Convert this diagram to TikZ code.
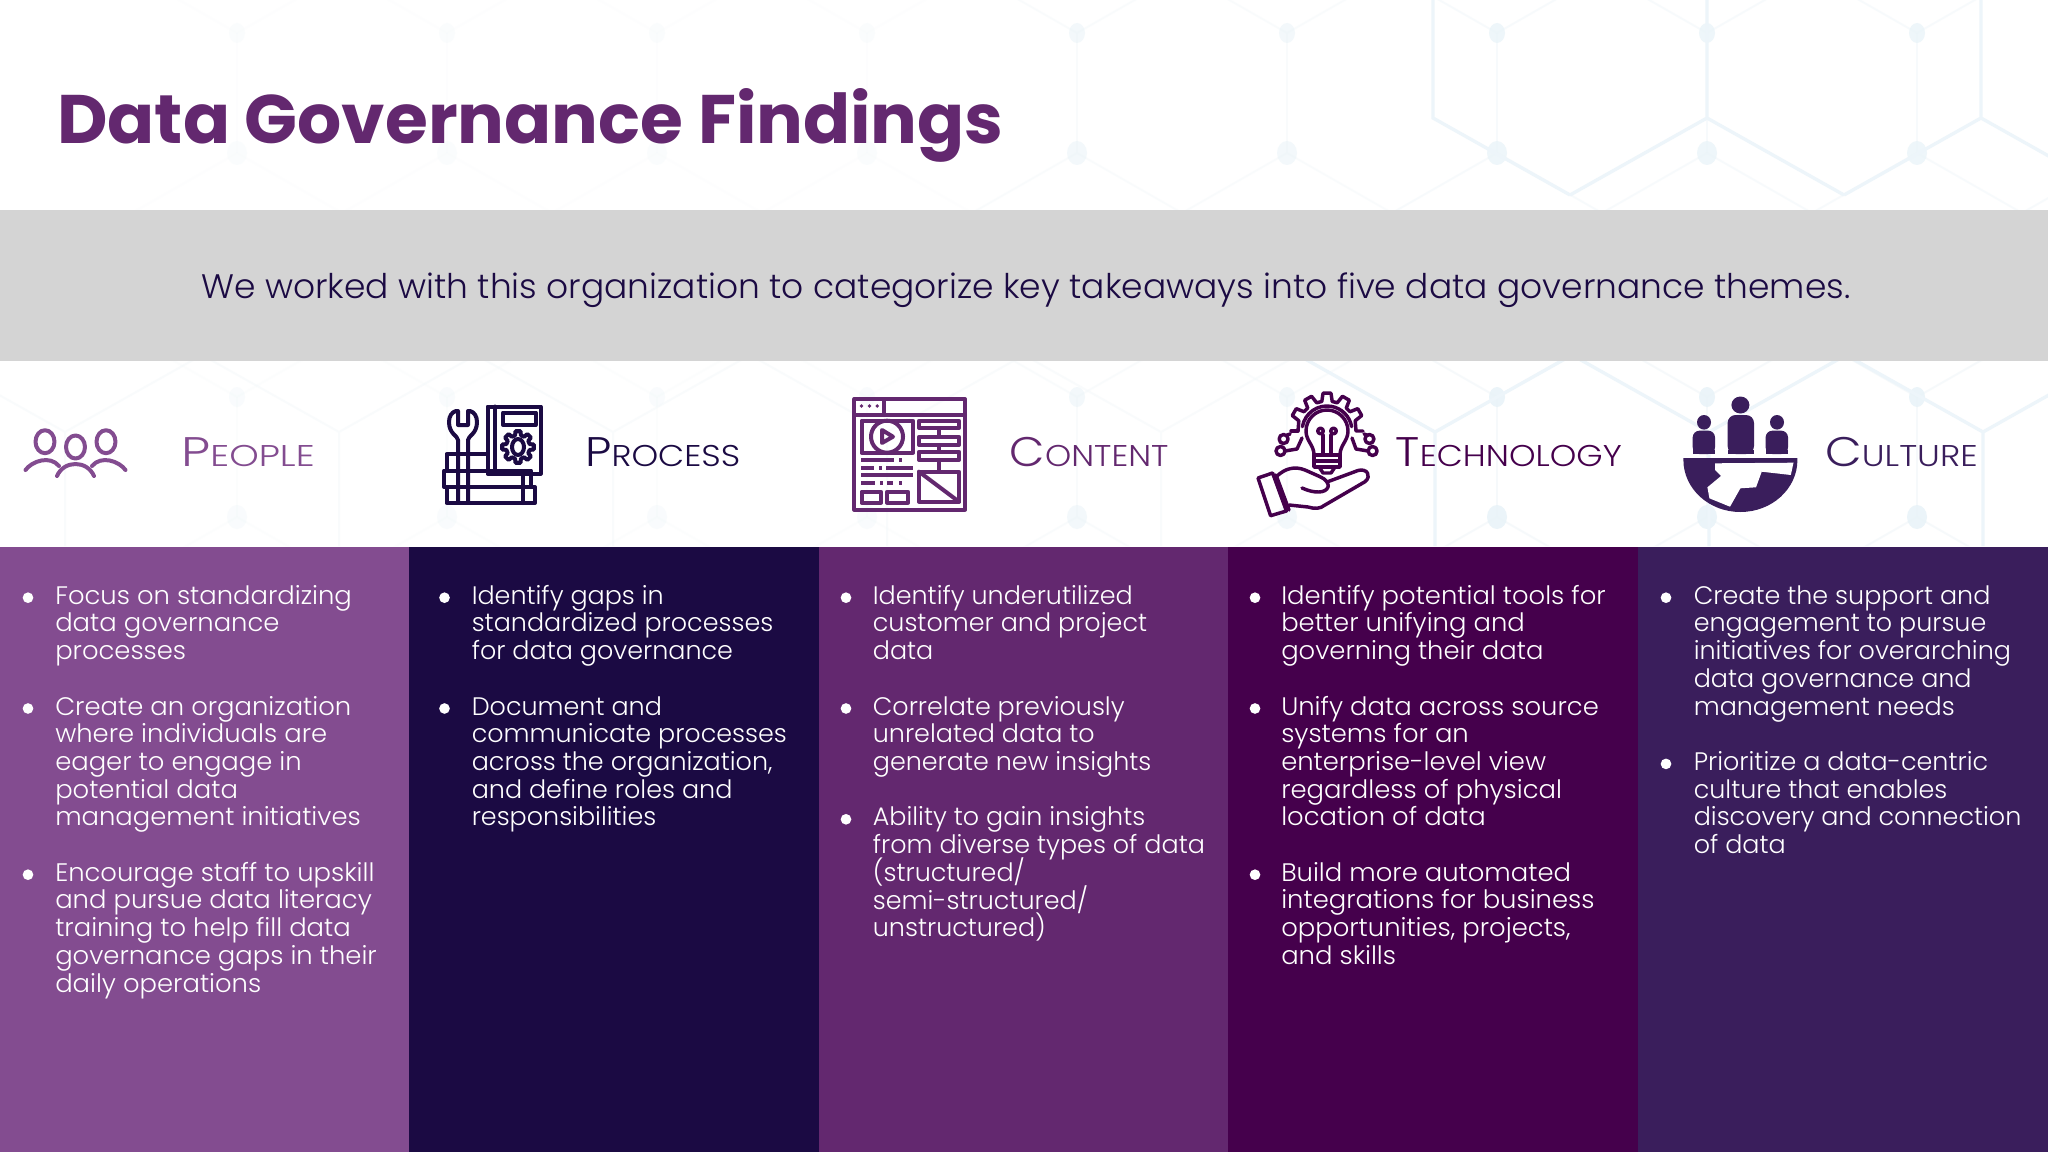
\documentclass[tikz,border=0pt]{standalone}
\usepackage{fontspec}
\setmainfont{Poppins}
\newfontfamily\lightf{Poppins Light}
\newfontfamily\bodyf[FakeStretch=1.02]{Poppins Light}
\newfontfamily\bodyg[FakeStretch=1.003]{Poppins Light}
\newfontfamily\subf[FakeStretch=1.0135]{Poppins Light}
\newfontfamily\titlef[FakeStretch=1.011]{Poppins Bold}
\usetikzlibrary{calc}
\definecolor{cpeople}{HTML}{834C90}
\definecolor{cprocess}{HTML}{1B0A43}
\definecolor{ccontent}{HTML}{63286F}
\definecolor{ctech}{HTML}{45004C}
\definecolor{cculture}{HTML}{3A1E5C}
\definecolor{cband}{HTML}{D4D4D4}
\definecolor{bgthick}{HTML}{EDF5FA}
\definecolor{bgthin}{HTML}{F5F9FB}
\definecolor{bgdot}{HTML}{E8F3F8}
\newcommand{\curbody}{\bodyf}
\tikzset{
  bodytext/.style={anchor=north west,inner sep=0pt,align=left,text=white,font=\curbody\fontsize{19}{20.78}\selectfont},
  bulletdot/.style={circle,fill=white,inner sep=0pt,minimum size=8pt},
  header/.style={anchor=base west,inner sep=0pt},
  thickbg/.style={bgthick,line width=2.5pt},
  thinbg/.style={bgthin,line width=1.5pt},
  icon/.style={line width=3pt,line join=round,line cap=round}
}
\newcommand{\fs}{\rule{0pt}{16pt}}
\newcommand{\bitem}[5]{%
  \node[bodytext] (t#1) at (#2,{604+27.7*#4-21.33}) {\fs #5};
  \node[bulletdot] (b#1) at (#3,{597.7+27.7*#4}) {};
}
\newcommand{\capsword}[3]{\scalebox{#1}[1]{\lightf\fontsize{31}{31}\selectfont #2\fontsize{22.5}{22.5}\selectfont #3}}
\begin{document}
\begin{tikzpicture}[x=0.75pt,y=-0.75pt]
\useasboundingbox (0,0) rectangle (2048,1152);
\fill[white] (0,0) rectangle (2048,1152);
% background pattern
\begin{scope}
\clip (0,0) rectangle (2048,210) (0,361) rectangle (2048,546);
\foreach \k in {0,...,9}{
  \pgfmathsetmacro{\xx}{237+210*\k}
  \pgfmathsetmacro{\fadetop}{\xx<1000 ? 0.18 : (\xx<1400 ? 0.5 : 0.7)}
  \pgfmathsetmacro{\fadelow}{\xx<1000 ? 0.25 : (\xx<1400 ? 0.5 : 0.85)}
  \begin{scope}[opacity=\fadetop]
    \draw[thinbg] (\xx,33) -- (\xx,153);
    \draw[thinbg] (\xx,33) -- ++(-105,-60) (\xx,33) -- ++(105,-60);
    \draw[thinbg] (\xx,153) -- ++(-105,60) (\xx,153) -- ++(105,60);
    \fill[bgdot] (\xx,33) ellipse (8 and 10);
    \fill[bgdot] (\xx,153) ellipse (10 and 12);
  \end{scope}
  \begin{scope}[opacity=\fadelow]
    \draw[thinbg] (\xx,397) -- (\xx,517);
    \draw[thinbg] (\xx,397) -- ++(-105,-60) (\xx,397) -- ++(105,-60);
    \draw[thinbg] (\xx,517) -- ++(-105,60) (\xx,517) -- ++(105,60);
    \fill[bgdot] (\xx,397) ellipse (8 and 10);
    \fill[bgdot] (\xx,517) ellipse (10 and 12);
  \end{scope}
}
\foreach \k in {0,...,5}{
  \pgfmathsetmacro{\xv}{65+274*\k}
  \draw[thinbg,opacity=0.6] (\xv,432) -- ++(0,114) (\xv,432) -- ++(-137,-77) (\xv,432) -- ++(137,-77);
}
\draw[thickbg] (1433,0) -- (1433,118) -- ++(137,77);
\foreach \xv in {1707,1981}{
  \draw[thickbg] (\xv,0) -- (\xv,118) -- ++(-137,77) (\xv,118) -- ++(137,77);
}
\foreach \xv in {1435,1709,1983}{
  \draw[thickbg] (\xv,432) -- ++(0,114) (\xv,432) -- ++(-137,-77) (\xv,432) -- ++(137,-77);
}
\end{scope}
% band
\fill[cband] (0,210) rectangle (2048,361);
% columns
\fill[cpeople]  (0,547) rectangle (409,1152);
\fill[cprocess] (409,547) rectangle (819,1152);
\fill[ccontent] (819,547) rectangle (1228,1152);
\fill[ctech]    (1228,547) rectangle (1638,1152);
\fill[cculture] (1638,547) rectangle (2048,1152);
% title
\node[header,text=ccontent,font=\titlef\fontsize{51.5}{51.5}\selectfont] (title) at (57,144) {Data Governance Findings};
\node[header,text=cprocess,font=\subf\fontsize{25.5}{25.5}\selectfont] (subtitle) at (201,298) {We worked with this organization to categorize key takeaways into five data governance themes.};
% headers
\node[header,text=cpeople] (hpeople) at (181,466) {\capsword{1.25}{P}{EOPLE}};
\node[header,text=cprocess] (hprocess) at (585,466) {\capsword{1.13}{P}{ROCESS}};
\node[header,text=ccontent] (hcontent) at (1009.5,466) {\capsword{1.11}{C}{ONTENT}};
\node[header,text=ctech] (htech) at (1395.5,466) {\capsword{1.125}{T}{ECHNOLOGY}};
\node[header,text=cculture] (hculture) at (1825,466) {\capsword{1.15}{C}{ULTURE}};
% people icon
\begin{scope}[draw=cpeople,icon]
\draw (45,441.7) ellipse (9.5 and 11.5);
\draw (75.5,447) ellipse (9.5 and 11.5);
\draw (106,441.7) ellipse (9.5 and 11.5);
\draw (25.5,470) .. controls (32,461) and (50,455) .. (59,466);
\draw (57,476) .. controls (64,460) and (87,460) .. (94,476);
\draw (92,466) .. controls (101,455) and (119,461) .. (125.5,470);
\end{scope}
% process icon
\begin{scope}[draw=cprocess,icon]
\draw (487.5,406.5) rectangle (540.5,473.5);
\draw (495,406.5) -- (495,473.5);
\draw (503,412.5) rectangle (535.5,425);
\draw (518,447) ellipse (6 and 8);
\draw ($(518,447)+(-14:12)$) \foreach \a in {0,45,...,315}{
  -- ($(518,447)+({\a-14}:12)$) -- ($(518,447)+({\a-9}:16)$) -- ($(518,447)+({\a+9}:16)$) -- ($(518,447)+({\a+14}:12)$)
} -- cycle;
\draw (458,502) -- (458,440) .. controls (458,436) and (449,434) .. (449,422) .. controls (449,416) and (452,412) .. (456,411) -- (458,411) -- (458,425) -- (468,425) -- (468,411) -- (470,411) .. controls (474,412) and (477,416) .. (477,422) .. controls (477,434) and (468,436) .. (468,440) -- (468,502);
\draw (487,454) -- (446.5,454) -- (446.5,470.5);
\draw (444,470.5) rectangle (531,487);
\draw (446.5,487) rectangle (535,503);
\draw (523,475) -- (523,503) (531,475) -- (531,487);
\end{scope}
% content icon
\begin{scope}[draw=ccontent,icon]
\draw (854.4,399) rectangle (965,509.7);
\draw (854.4,415) -- (965,415) (884,399) -- (884,415);
\foreach \x in {861.5,869.4,877.3}{\fill[ccontent] (\x,406) circle (1.9);}
\draw (861.5,420.7) rectangle (913,452.7);
\draw (887,436.7) circle (16);
\draw (882,430) -- (882,443) -- (893,436.7) -- cycle;
\draw (919,420.7) rectangle (959,428);
\draw (919,436.7) rectangle (959,445);
\draw (919,451.7) rectangle (959,460);
\draw (938.6,428) -- (938.6,436.7) (938.6,445) -- (938.6,451.7) (938.6,460) -- (938.6,471.7);
\draw (919,471.7) rectangle (959,501.7);
\draw (919,471.7) -- (959,501.7);
\draw[line cap=butt] (861,460) -- (894,460) (899,460) -- (902,460)
  (861,467.7) -- (874,467.7) (879,467.7) -- (882,467.7) (886,467.7) -- (913,467.7)
  (861,475) -- (913,475)
  (861,483) -- (875,483) (880,483) -- (883,483) (887,483) -- (893,483) (899,483) -- (902,483);
\draw (861.5,491.7) rectangle (881,502.7);
\draw (887,491.7) rectangle (908,502.7);
\end{scope}
% technology icon
\begin{scope}[draw=ctech,icon,line width=2.6pt]
\begin{scope}[shift={(1327,431)}]
\draw (180:29) \foreach \a in {-150,-120,-90,-60,-30}{
  -- ({\a-10}:30) -- ({\a-6}:38) -- ({\a+6}:38) -- ({\a+10}:30)
} -- (0:29) -- (0:36) ;
\draw (180:29) -- (180:36);
\draw (-170:25) arc (-170:-10:25);
\draw (-13,24) .. controls (-13,14) and (-21,10) .. (-21,0) arc (180:360:21) .. controls (21,10) and (13,14) .. (13,24);
\draw (-13,24) -- (13,24) -- (13,36) -- (-13,36) -- cycle;
\draw (-13,30) -- (13,30);
\draw (-8,36) -- (-4,42) -- (4,42) -- (8,36);
\draw (-4,24) -- (-4,4) (4,24) -- (4,4);
\draw (-6.5,0) circle (2.8) (6.5,0) circle (2.8);
\end{scope}
\draw (1283.6,439) circle (4.5) (1280.5,451) circle (4.5) (1369.4,439) circle (4.5) (1372.6,451) circle (4.5);
\draw (1290,434) -- (1287,435) (1364,434) -- (1367,435);
\draw (1285,451) -- (1297,449) -- (1302,438) (1368,451) -- (1356,449) -- (1352,438);
\draw (1258,478) -- (1272.6,473) -- (1286.4,511) -- (1270.6,515.7) -- cycle;
\draw (1276,475) -- (1289,510);
\draw (1276,477) .. controls (1285,468) and (1295,466) .. (1305,470) -- (1320,476.7) .. controls (1326,479) and (1329,484) .. (1328,487) .. controls (1326,493) and (1315,494) .. (1302,488);
\draw (1327,482) -- (1358,470.5) .. controls (1367,468) and (1372,476) .. (1365,481.7) -- (1325,505) .. controls (1320,509) and (1315,509) .. (1308,507) -- (1289,505);
\end{scope}
% culture icon
\begin{scope}[fill=cculture]
\fill (1683.4,458) -- (1797.4,458) -- (1797.4,460) arc (0:180:57 and 52) -- cycle;
\fill[white] (1715,463.3) -- (1793.5,462.7) -- (1790.8,475) -- (1761.7,471.7) -- (1756,487.3) -- (1740.4,488.3) -- (1730,506.7) -- (1709.4,498.3) -- (1707.4,487.3) -- (1721,476) -- (1715,470) -- cycle;
\fill (1740.4,405) ellipse (9 and 8.5);
\fill[rounded corners=6pt] (1727.6,454) -- (1727.6,415) -- (1754,415) -- (1754,454) -- cycle;
\fill (1704,422.3) ellipse (7 and 7.3);
\fill[rounded corners=5pt] (1692.7,454) -- (1692.7,430.7) -- (1715,430.7) -- (1715,454) -- cycle;
\fill (1777,422.3) ellipse (7 and 7.3);
\fill[rounded corners=5pt] (1765.6,454) -- (1765.6,430.7) -- (1788,430.7) -- (1788,454) -- cycle;
\fill (1727.6,450) rectangle (1754,454);
\fill (1692.7,450) rectangle (1715,454);
\fill (1765.6,450) rectangle (1788,454);
\end{scope}
% column 1
\renewcommand{\curbody}{\bodyf}
\bitem{a1}{55}{28}{0}{Focus on standardizing\\data governance\\processes}
\bitem{a2}{55}{28}{4}{Create an organization\\where individuals are\\eager to engage in\\potential data\\management initiatives}
\bitem{a3}{55}{28}{10}{Encourage staff to upskill\\and pursue data literacy\\training to help fill data\\governance gaps in their\\daily operations}
% column 2
\renewcommand{\curbody}{\bodyg}
\bitem{b1}{471.5}{444.5}{0}{Identify gaps in\\standardized processes\\for data governance}
\bitem{b2}{471.5}{444.5}{4}{Document and\\communicate processes\\across the organization,\\and define roles and\\responsibilities}
% column 3
\bitem{c1}{872.6}{846}{0}{Identify underutilized\\customer and project\\data}
\bitem{c2}{872.6}{846}{4}{Correlate previously\\unrelated data to\\generate new insights}
\bitem{c3}{872.6}{846}{8}{Ability to gain insights\\from diverse types of data\\\smash{(structured/}\\\smash{semi-structured/}\\\smash{unstructured)}}
% column 4
\renewcommand{\curbody}{\bodyf}
\bitem{d1}{1281}{1255}{0}{Identify potential tools for\\better unifying and\\governing their data}
\bitem{d2}{1281}{1255}{4}{Unify data across source\\systems for an\\enterprise-level view\\regardless of physical\\location of data}
\bitem{d3}{1281}{1255}{10}{Build more automated\\integrations for business\\opportunities, projects,\\and skills}
% column 5
\renewcommand{\curbody}{\bodyg}
\bitem{e1}{1693.5}{1666}{0}{Create the support and\\engagement to pursue\\initiatives for overarching\\data governance and\\management needs}
\bitem{e2}{1693.5}{1666}{6}{Prioritize a data-centric\\culture that enables\\discovery and connection\\of data}
\end{tikzpicture}
\end{document}
